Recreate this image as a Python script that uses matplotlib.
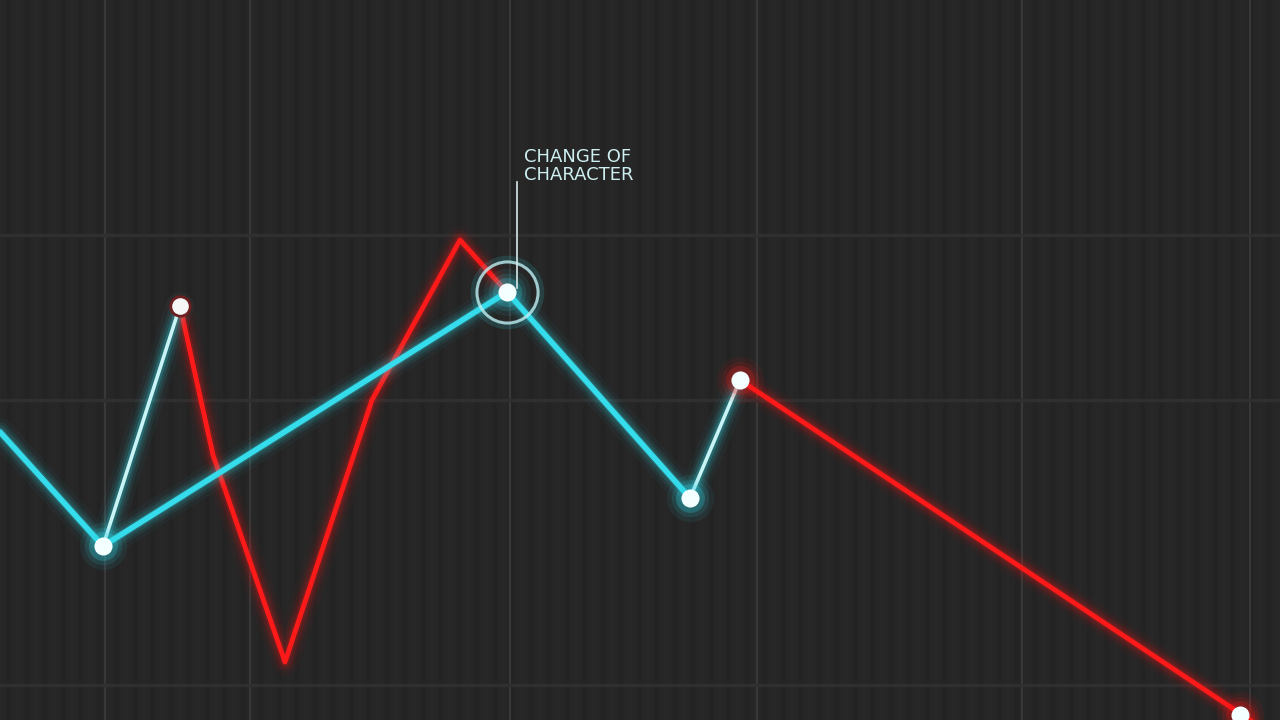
import numpy as np
import matplotlib
matplotlib.use("Agg")
import matplotlib.pyplot as plt

# ---- data (x position, level) ----
cyan_x = [0, 103, 507, 690]
cyan_y = [288, 174, 428, 222]

link_x = [103, 180, np.nan, 690, 740]
link_y = [174, 414, np.nan, 222, 340]

red_x = [180, 213, 285, 372, 460, 505, np.nan, 740, 1280]
red_y = [414, 265, 58, 320, 480, 430, np.nan, 340, -20]

pts_cyan_x = [103, 690]
pts_cyan_y = [174, 222]
pt_white_x, pt_white_y = [180], [414]
pt_choch_x, pt_choch_y = [507], [428]
pts_red_x = [740, 1240]
pts_red_y = [340, 5]

vgrid = [105, 250, 510, 757, 1022, 1250]
hgrid = [485, 320, 35]

label = "CHANGE OF\nCHARACTER"

BG = "#262626"
CYAN = "#2fd6e6"
RED = "#f01414"

fig = plt.figure(figsize=(12.8, 7.2), dpi=100, facecolor=BG)
ax = fig.add_axes([0, 0, 1, 1])
ax.set_facecolor(BG)
ax.set_xlim(0, 1280)
ax.set_ylim(0, 720)
ax.axis("off")

# faint vertical stripes texture
stripe_x = np.arange(0, 1280, 9)
for i, sx in enumerate(stripe_x):
    ax.axvline(sx, color="#1f1f1f" if i % 2 else "#2a2a2a", lw=3, alpha=0.3, zorder=0)

for v in vgrid:
    ax.axvline(v, color="#393939", lw=1.4, zorder=1)
for h in hgrid:
    ax.axhline(h, color="#2f2f2f", lw=2.5, zorder=1)

def glow_line(x, y, color, core, lw=3.2, z=3):
    for w, a in [(20, 0.04), (14, 0.08), (10, 0.12), (6, 0.22)]:
        ax.plot(x, y, color=color, lw=w, alpha=a, solid_capstyle="round",
                solid_joinstyle="round", zorder=z)
    ax.plot(x, y, color=core, lw=lw, solid_capstyle="round",
            solid_joinstyle="round", zorder=z + 0.5)

glow_line(red_x, red_y, RED, "#ff1a1a", lw=3.4, z=3)
glow_line(cyan_x, cyan_y, CYAN, "#35dcec", lw=4.0, z=4)
glow_line(link_x, link_y, CYAN, "#c8f4f6", lw=2.6, z=4)

def glow_pts(x, y, color, z=6):
    for s, a in [(34, 0.07), (27, 0.12), (21, 0.22)]:
        ax.plot(x, y, "o", ms=s, color=color, alpha=a, mec="none", zorder=z)
    ax.plot(x, y, "o", ms=13, color="#f4ffff", mec="none", zorder=z + 0.5)

glow_pts(pts_cyan_x, pts_cyan_y, CYAN)
glow_pts(pt_choch_x, pt_choch_y, CYAN)
glow_pts(pts_red_x, pts_red_y, RED)
ax.plot(pt_white_x, pt_white_y, "o", ms=14, color="#f6f6f6", mec="#6a2020",
        mew=2, zorder=7)

# ring around CHoCH point
ax.plot(pt_choch_x, pt_choch_y, "o", ms=44, mfc="none", mec="#bfeff2",
        mew=2.2, alpha=0.8, zorder=7)
ax.plot(pt_choch_x, pt_choch_y, "o", ms=48, mfc="none", mec=CYAN,
        mew=5, alpha=0.15, zorder=6)

# annotation
ax.plot([pt_choch_x[0] + 10, pt_choch_x[0] + 10], [pt_choch_y[0] + 4, 538],
        color="#d8e8ea", lw=1.2, zorder=7)
ax.text(524, 554, label, color="#cdeff0", fontsize=13, ha="left", va="center",
        linespacing=1.0, family="DejaVu Sans", zorder=8)

fig.savefig("out.png", dpi=100, facecolor=BG)
